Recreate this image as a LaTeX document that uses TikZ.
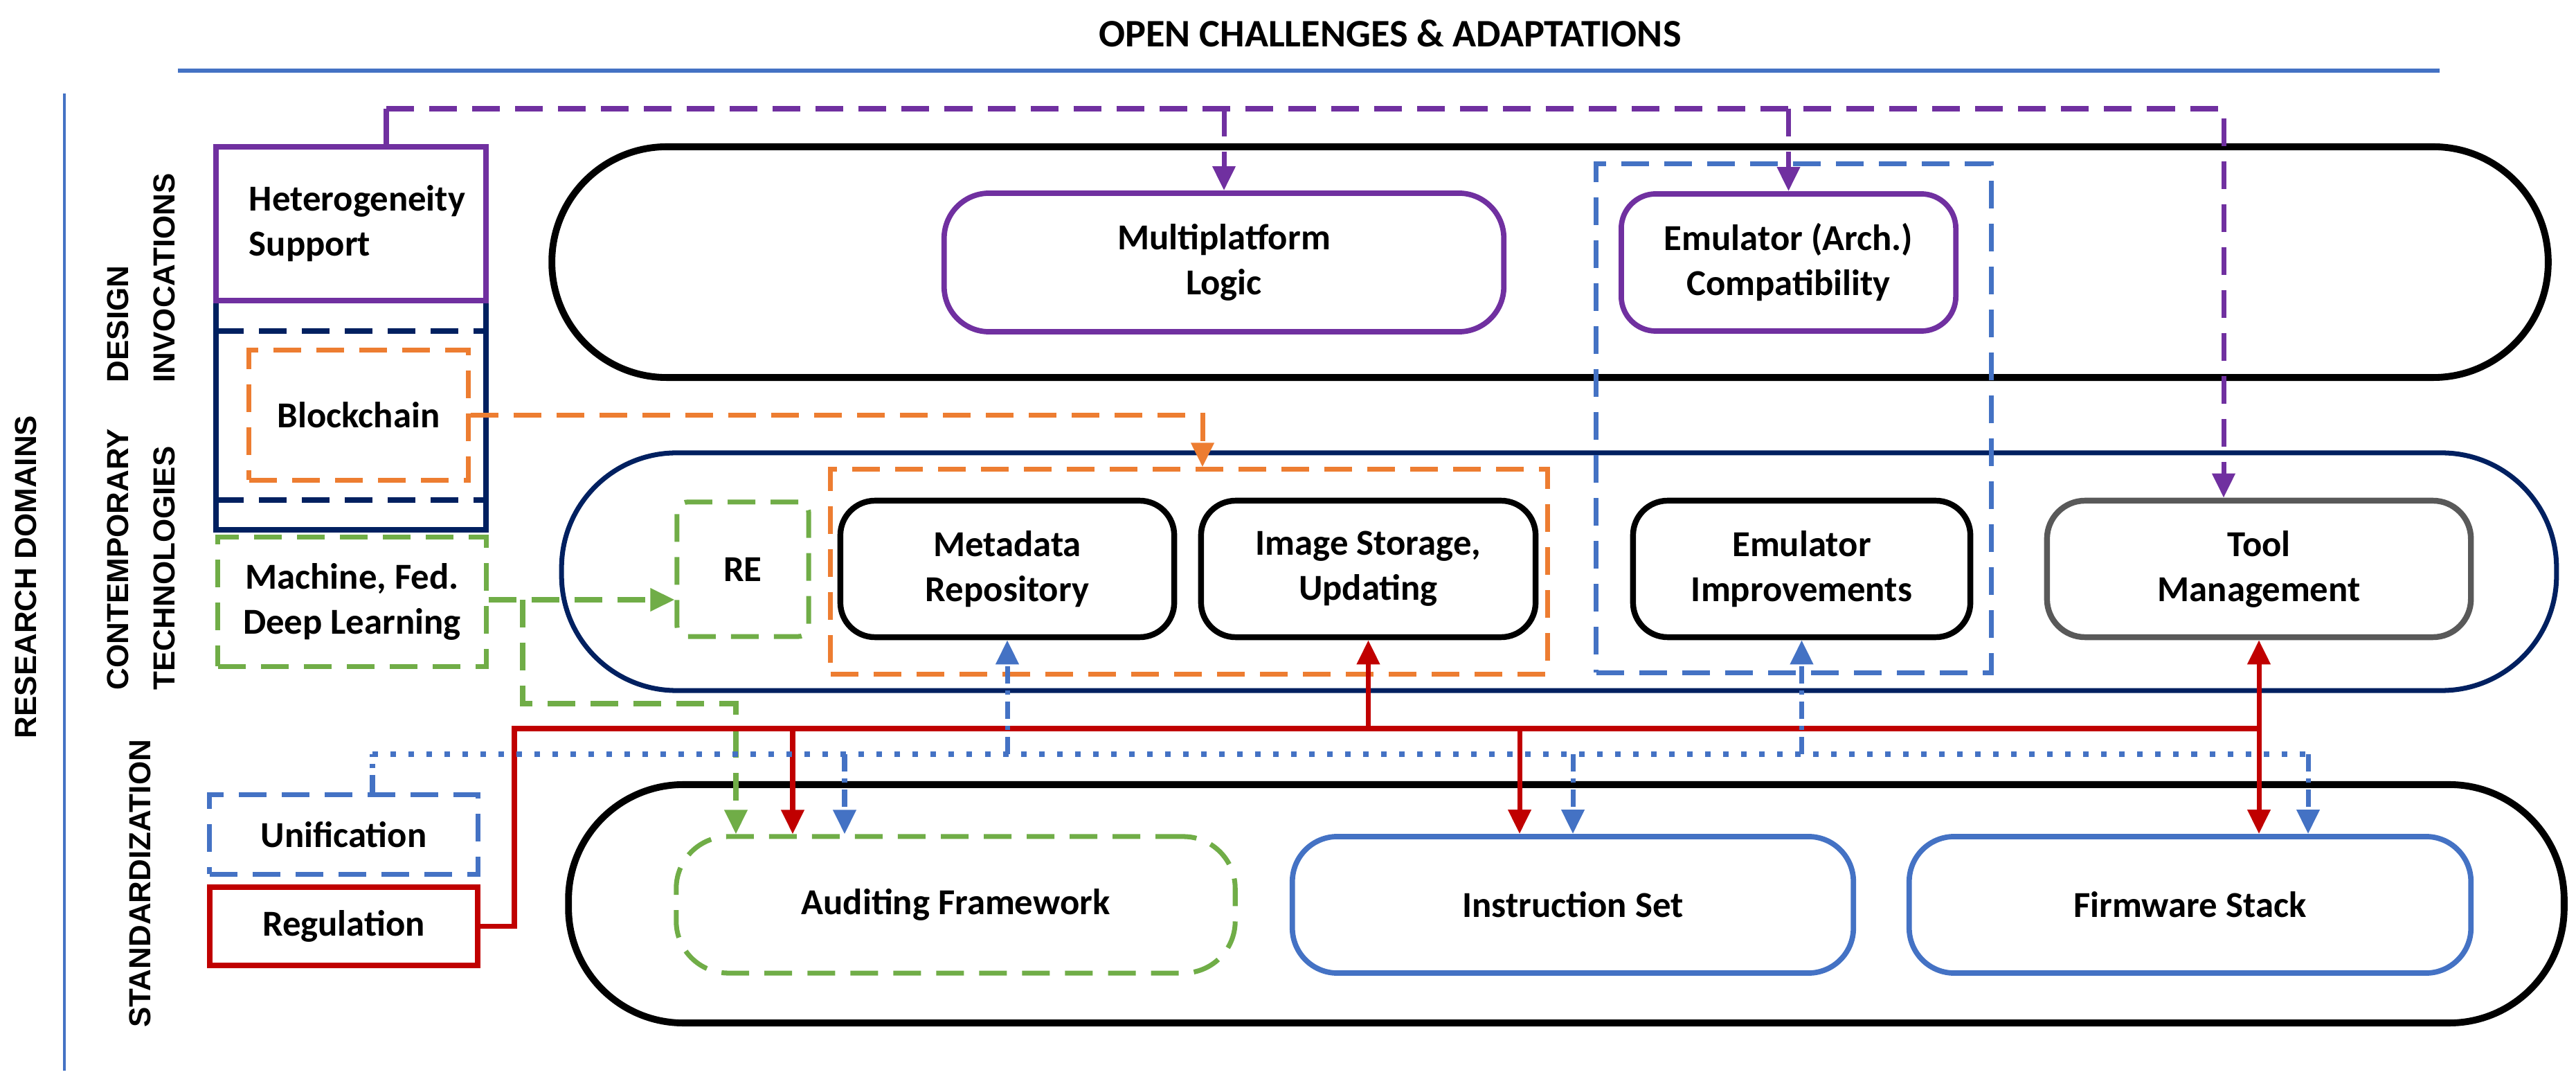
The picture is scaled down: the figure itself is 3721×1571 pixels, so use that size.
\documentclass[tikz,border=0pt]{standalone}
\usepackage{fontspec}
\setmainfont{Carlito}
\newfontfamily\sidefont{Liberation Sans}
\usetikzlibrary{arrows.meta}
\definecolor{cpurple}{HTML}{7030A0}
\definecolor{cnavy}{HTML}{002060}
\definecolor{corange}{HTML}{ED7D31}
\definecolor{cgreen}{HTML}{70AD47}
\definecolor{cblue}{HTML}{4472C4}
\definecolor{cred}{HTML}{C00000}
\definecolor{cgray}{HTML}{595959}
\begin{document}
\begin{tikzpicture}[x=0.01cm,y=-0.01cm,
  txt/.style={font=\bfseries\fontsize{15}{18.5}\selectfont, align=center, inner sep=0pt},
  side/.style={font=\sidefont\bfseries\fontsize{12.5}{19}\selectfont, align=left, inner sep=0pt, rotate=90},
  dsh/.style={dash pattern=on 0.4cm off 0.22cm},
  dotl/.style={dash pattern=on 0.08cm off 0.18cm},
  dshdot/.style={dash pattern=on 0.25cm off 0.1cm on 0.06cm off 0.1cm},
  lw/.style={line width=2pt},
  tip/.style={-{Triangle[length=0.35cm,width=0.32cm]}},
  pill/.style={draw, line width=2.8pt, rounded corners=1.66cm},
  ibox/.style={txt, draw, line width=2.4pt, rounded corners=0.5cm},
]
\useasboundingbox (0,0) rectangle (3721,1571);

% title and frame lines
\node[txt, font=\bfseries\fontsize{16}{19}\selectfont] (title) at (2008,48) {OPEN CHALLENGES \& ADAPTATIONS};
\draw[cblue, line width=1.5pt] (257,102) -- (3524,102);
\draw[cblue, line width=1.3pt] (93,135) -- (93,1546);

% side labels
\node[side] (rd) at (37,833) {RESEARCH DOMAINS};
\node[side, anchor=west] (di) at (203.5,553) {DESIGN\\INVOCATIONS};
\node[side, anchor=west] (ct) at (203.5,997) {CONTEMPORARY\\TECHNOLOGIES};
\node[side] (st) at (202,1276) {STANDARDIZATION};

% row pills
\node[pill, draw=black, minimum width=28.82cm, minimum height=3.33cm] (toppill) at (2239,378.5) {};
\node[pill, draw=cnavy, line width=2pt, minimum width=28.80cm, minimum height=3.43cm] (midpill) at (2252,825.5) {};
\node[pill, draw=black, minimum width=28.81cm, minimum height=3.44cm] (botpill) at (2262.5,1305) {};

% left column
\node[draw=cnavy, line width=2.2pt, minimum width=3.9cm, minimum height=3.31cm, inner sep=0pt] (ctb) at (507,599.5) {};
\draw[cnavy, line width=2.2pt, dsh] (312,478) -- (702,478);
\draw[cnavy, line width=2.2pt, dsh] (312,722) -- (702,722);
\node[txt, draw=cpurple, line width=2.2pt, minimum width=3.9cm, minimum height=2.22cm, text width=2.94cm, align=left] (het) at (507,323) {Heterogeneity\\Support};
\node[txt, draw=corange, lw, dsh, minimum width=3.16cm, minimum height=1.87cm] (bc) at (518,599.5) {Blockchain};
\node[txt, draw=cgreen, lw, dsh, minimum width=3.87cm, minimum height=1.86cm] (ml) at (508.5,869) {Machine, Fed.\\Deep Learning};
\node[txt, draw=cblue, lw, dsh, minimum width=3.87cm, minimum height=1.14cm] (uni) at (496.5,1205) {Unification};
\node[txt, draw=cred, line width=2.2pt, minimum width=3.87cm, minimum height=1.13cm] (reg) at (496.5,1337.5) {Regulation};

% group boxes
\node[draw=cblue, lw, dsh, minimum width=5.7cm, minimum height=7.34cm, inner sep=0pt] (emugrp) at (2591,604) {};
\node[draw=corange, lw, dsh, minimum width=10.35cm, minimum height=2.95cm, inner sep=0pt] (orggrp) at (1717.5,825.5) {};

% design row
\node[ibox, draw=cpurple, line width=2.2pt, rounded corners=0.65cm, minimum width=8.08cm, minimum height=2.0cm] (mpl) at (1768,379) {Multiplatform\\Logic};
\node[ibox, draw=cpurple, line width=2.2pt, minimum width=4.83cm, minimum height=1.98cm] (emuA) at (2583.5,379) {Emulator (Arch.)\\Compatibility};

% contemporary row
\node[txt, draw=cgreen, lw, dsh, rounded corners=0.15cm, minimum width=1.9cm, minimum height=1.94cm] (re) at (1073,822) {RE};
\node[ibox, minimum width=4.82cm, minimum height=1.97cm] (meta) at (1455,821.5) {Metadata\\Repository};
\node[ibox, minimum width=4.83cm, minimum height=1.97cm] (img) at (1976.5,821.5) {Image Storage,\\Updating};
\node[ibox, minimum width=4.87cm, minimum height=1.97cm] (emuI) at (2602.5,821.5) {Emulator\\Improvements};
\node[ibox, draw=cgray, rounded corners=0.55cm, minimum width=6.12cm, minimum height=1.97cm] (tool) at (3263,821.5) {Tool\\Management};

% standardization row
\node[txt, draw=cgreen, lw, dsh, rounded corners=0.75cm, minimum width=8.07cm, minimum height=1.97cm] (aud) at (1380.5,1306.5) {Auditing Framework};
\node[txt, draw=cblue, line width=2.2pt, rounded corners=0.65cm, minimum width=8.10cm, minimum height=1.97cm] (ins) at (2272,1306.5) {Instruction Set};
\node[txt, draw=cblue, line width=2.2pt, rounded corners=0.65cm, minimum width=8.11cm, minimum height=1.97cm] (fw) at (3163.5,1306.5) {Firmware Stack};

% purple connectors
\coordinate (pA) at (558,157);
\coordinate (pB) at (3212,157);
\draw[cpurple, lw] (het.north -| pA) -- (pA);
\draw[cpurple, lw, dsh, tip] (pA) -- (pB) -- (tool.north -| pB);
\draw[cpurple, lw, dsh, tip] (mpl.north |- pA) -- (mpl.north);
\draw[cpurple, lw, dsh, tip] (emuA.north |- pA) -- (emuA.north);

% orange connector
\coordinate (oA) at (1737,599.5);
\draw[corange, lw, dsh, tip] (bc.east) -- (oA) -- (orggrp.north -| oA);

% green connectors
\coordinate (gA) at (755,866);
\coordinate (gB) at (1063,1016);
\draw[cgreen, lw, dsh, tip] (ml.east |- gA) -- (gA) -- (re.west |- gA);
\draw[cgreen, lw, dsh, tip] (gA) |- (gB) -- (aud.north -| gB);

% red connectors
\coordinate (rA) at (743,1052);
\coordinate (rB) at (3263,1052);
\coordinate (rAud) at (1145,1052);
\coordinate (rIns) at (2195,1052);
\draw[cred, line width=2pt] (reg.east) -| (rA) -- (rB);
\draw[cred, line width=2pt, tip] (rAud) -- (aud.north -| rAud);
\draw[cred, line width=2pt, tip] (img.south |- rA) -- (img.south);
\draw[cred, line width=2pt, tip] (rIns) -- (ins.north -| rIns);
\draw[cred, line width=2pt, {Triangle[length=0.35cm,width=0.32cm]}-{Triangle[length=0.35cm,width=0.32cm]}] (tool.south) -- (fw.north -| tool.south);

% blue connectors
\coordinate (bA) at (538,1089);
\coordinate (bB) at (3334,1089);
\coordinate (bAud) at (1220,1089);
\draw[cblue, lw, dshdot] (uni.north -| bA) -- (bA);
\draw[cblue, lw, dotl] (bA) -- (bB);
\draw[cblue, lw, dshdot, tip] (bB) -- (fw.north -| bB);
\draw[cblue, lw, dshdot, tip] (meta.south |- bA) -- (meta.south);
\draw[cblue, lw, dshdot, tip] (emuI.south |- bA) -- (emuI.south);
\draw[cblue, lw, dshdot, tip] (bAud) -- (aud.north -| bAud);
\draw[cblue, lw, dshdot, tip] (ins.north |- bA) -- (ins.north);
\end{tikzpicture}
\end{document}
